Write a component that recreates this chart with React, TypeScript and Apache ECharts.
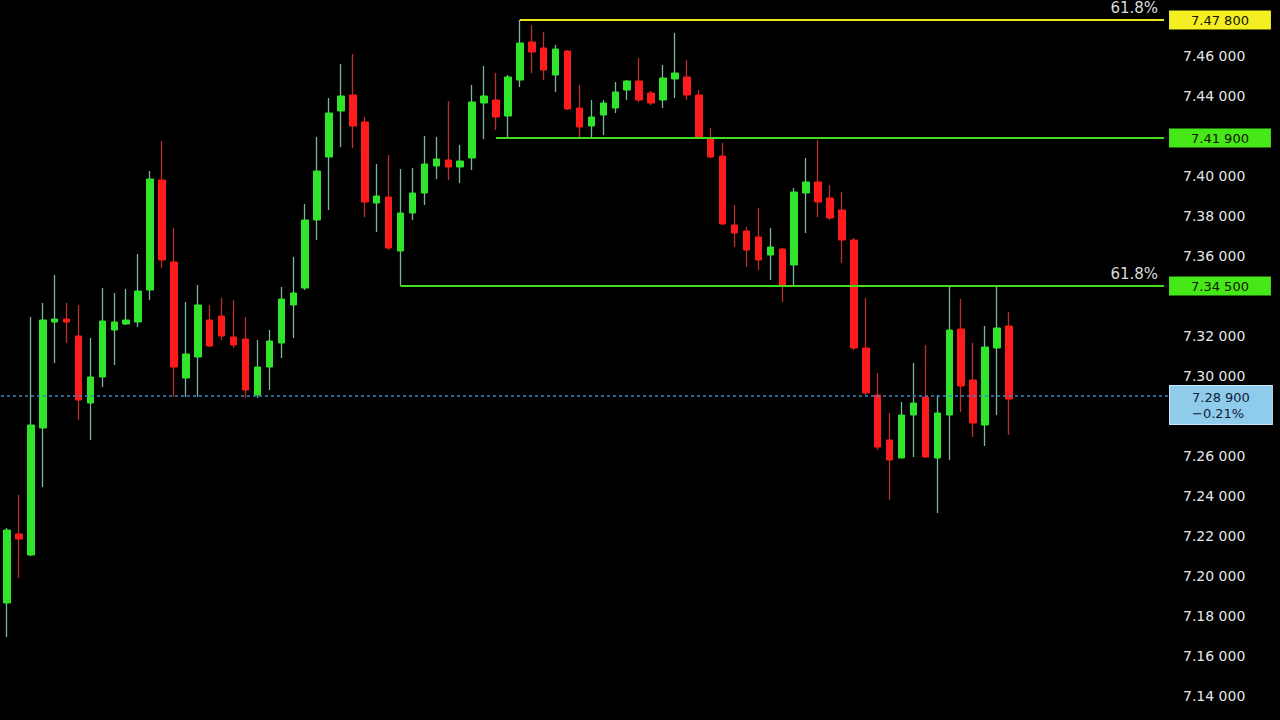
import React, { useEffect, useRef } from "react";
import * as echarts from "echarts";

// ---- data ----
const categories: string[] = Array.from({ length: 98 }, (_, i) => String(i + 1));

const opens = [
  7.1865, 7.221, 7.2105, 7.274, 7.327, 7.3285, 7.32, 7.2865, 7.2995, 7.323,
  7.326, 7.327, 7.343, 7.398, 7.357, 7.299, 7.3095, 7.328, 7.33, 7.3195,
  7.3185, 7.2905, 7.3045, 7.3165, 7.3355, 7.344, 7.378, 7.4095, 7.4325, 7.4405,
  7.427, 7.3865, 7.3895, 7.3625, 7.3815, 7.3915, 7.405, 7.408, 7.4045, 7.409,
  7.4365, 7.438, 7.43, 7.448, 7.467, 7.464, 7.4505, 7.4625, 7.434, 7.425,
  7.4305, 7.434, 7.443, 7.4475, 7.4415, 7.438, 7.4485, 7.4495, 7.4405, 7.4185,
  7.41, 7.3755, 7.3725, 7.3695, 7.3605, 7.3635, 7.3555, 7.3915, 7.397, 7.389,
  7.383, 7.368, 7.314, 7.2905, 7.268, 7.259, 7.2805, 7.2895, 7.259, 7.2805,
  7.3235, 7.298, 7.2755, 7.314, 7.325,
];
const closes = [
  7.223, 7.2185, 7.2755, 7.328, 7.3285, 7.327, 7.288, 7.2995, 7.3275, 7.327,
  7.328, 7.3425, 7.3985, 7.358, 7.3045, 7.311, 7.3355, 7.315, 7.32, 7.3155,
  7.293, 7.3045, 7.3175, 7.3385, 7.3415, 7.378, 7.4025, 7.4315, 7.44, 7.425,
  7.387, 7.39, 7.364, 7.3815, 7.3915, 7.406, 7.4085, 7.4045, 7.4075, 7.437,
  7.44, 7.4295, 7.4495, 7.4665, 7.462, 7.453, 7.4635, 7.4335, 7.4245, 7.4295,
  7.4365, 7.442, 7.4475, 7.438, 7.4365, 7.449, 7.4515, 7.4405, 7.4195, 7.4095,
  7.376, 7.3715, 7.363, 7.358, 7.3645, 7.3455, 7.392, 7.397, 7.387, 7.379,
  7.368, 7.314, 7.2915, 7.2645, 7.258, 7.2805, 7.2865, 7.2595, 7.2815, 7.323,
  7.295, 7.2765, 7.3145, 7.324, 7.2885,
];
const lows = [
  7.1695, 7.199, 7.21, 7.2445, 7.3065, 7.3165, 7.278, 7.268, 7.2945, 7.3055,
  7.3255, 7.3245, 7.338, 7.354, 7.2895, 7.2895, 7.2895, 7.3145, 7.318, 7.314,
  7.289, 7.289, 7.293, 7.309, 7.319, 7.343, 7.368, 7.383, 7.4145, 7.414,
  7.3795, 7.372, 7.363, 7.345, 7.378, 7.3855, 7.3985, 7.398, 7.3965, 7.403,
  7.4185, 7.423, 7.419, 7.4445, 7.4515, 7.448, 7.442, 7.433, 7.4195, 7.4195,
  7.4205, 7.4315, 7.438, 7.437, 7.4355, 7.434, 7.439, 7.438, 7.419, 7.409,
  7.3755, 7.3645, 7.3545, 7.353, 7.348, 7.337, 7.3455, 7.3715, 7.3795, 7.378,
  7.3565, 7.313, 7.2905, 7.263, 7.238, 7.259, 7.2595, 7.259, 7.2315, 7.258,
  7.282, 7.2695, 7.265, 7.2805, 7.2705,
];
const highs = [
  7.224, 7.2405, 7.3295, 7.3365, 7.3505, 7.3365, 7.3355, 7.319, 7.344, 7.3415,
  7.3435, 7.361, 7.4025, 7.4175, 7.374, 7.337, 7.3455, 7.3355, 7.339, 7.338,
  7.3295, 7.318, 7.323, 7.3445, 7.3595, 7.386, 7.4195, 7.439, 7.456, 7.461,
  7.4295, 7.406, 7.4105, 7.4035, 7.404, 7.42, 7.4195, 7.4375, 7.4155, 7.4455,
  7.455, 7.4515, 7.4505, 7.478, 7.4755, 7.472, 7.4655, 7.463, 7.4455, 7.438,
  7.438, 7.447, 7.448, 7.459, 7.4425, 7.4555, 7.4715, 7.458, 7.443, 7.424,
  7.4165, 7.3855, 7.3745, 7.384, 7.374, 7.364, 7.394, 7.409, 7.418, 7.3955,
  7.392, 7.369, 7.339, 7.3015, 7.2815, 7.287, 7.3065, 7.3155, 7.2905, 7.3445,
  7.3385, 7.3165, 7.325, 7.3445, 7.332,
];

// horizontal levels: price, start bar index, fib text (empty if none)
const levelPrices = [7.478, 7.419, 7.345];
const levelStartBars = [43, 41, 33];
const levelFibTexts = ["61.8%", "", "61.8%"];
const lastPrice = 7.289;
const lastChange = "\u22120.21%";

// y-axis ticks
const yMin = 7.14;
const yMax = 7.48;
const yStep = 0.02;

const fmtPrice = (v: number) => {
  const s = v.toFixed(5);
  return s.slice(0, 4) + " " + s.slice(4);
};

const levelColors = ["#ece71e", "#43dc1f", "#43dc1f"];
const levelBoxBg = ["#f3ef22", "#46e81a", "#46e81a"];

export default function App() {
  const ref = useRef<HTMLDivElement>(null);

  useEffect(() => {
    document.body.style.margin = "0";
    document.body.style.background = "#000";
    if (!ref.current) return;
    const chart = echarts.init(ref.current, undefined, { renderer: "svg" });

    const bodyData = opens.map((o, i) => [o, closes[i], Math.min(o, closes[i]), Math.max(o, closes[i])]);
    const wickData = opens.map((o, i) => [o, closes[i], lows[i], highs[i]]);
    const lastCat = categories[categories.length - 1];
    const coveredPrices = [...levelPrices, lastPrice];

    const markData: any[] = [];
    levelPrices.forEach((p, k) => {
      const start = categories[levelStartBars[k]];
      const ls = { color: levelColors[k], width: 2, type: "solid" };
      markData.push([
        {
          coord: [start, p],
          lineStyle: ls,
          label: {
            show: true,
            position: "end",
            distance: 5,
            formatter: fmtPrice(p),
            backgroundColor: levelBoxBg[k],
            color: "#141400",
            padding: [3, 22],
            fontSize: 13,
            fontFamily: "DejaVu Sans",
          },
        },
        { coord: [lastCat, p] },
      ]);
      if (levelFibTexts[k]) {
        markData.push([
          {
            coord: [start, p],
            lineStyle: ls,
            label: {
              show: true,
              position: "insideEndTop",
              distance: [6, 5],
              formatter: levelFibTexts[k],
              color: "#d9d9d9",
              fontSize: 15,
              fontFamily: "DejaVu Sans",
            },
          },
          { coord: [lastCat, p] },
        ]);
      }
    });
    markData.push({
      yAxis: lastPrice,
      lineStyle: { color: "#3f86c4", width: 1.5, type: [3, 3] },
      label: {
        show: true,
        position: "end",
        distance: 0,
        offset: [0, 9],
        formatter: fmtPrice(lastPrice) + "\n" + lastChange,
        backgroundColor: "#8fcbea",
        borderColor: "#c8e6f6",
        borderWidth: 1,
        color: "#102038",
        padding: [3, 22],
        lineHeight: 16,
        fontSize: 13,
        fontFamily: "DejaVu Sans",
      },
    });

    chart.setOption({
      animation: false,
      backgroundColor: "#000000",
      grid: { left: 1, right: 110, top: 16, bottom: 24 },
      xAxis: {
        type: "category",
        data: categories,
        boundaryGap: true,
        show: false,
      },
      yAxis: {
        type: "value",
        position: "right",
        min: yMin,
        max: yMax,
        interval: yStep,
        axisLine: { show: false },
        axisTick: { show: false },
        splitLine: { show: false },
        axisLabel: {
          color: "#e6e6e6",
          fontSize: 14,
          fontFamily: "DejaVu Sans",
          margin: 13,
          formatter: (v: number) =>
            coveredPrices.some((p) => Math.abs(p - v) < 0.0095) ? "" : fmtPrice(v),
        },
      },
      series: [
        {
          type: "candlestick",
          name: "wick",
          data: wickData,
          barWidth: 1,
          silent: true,
          z: 2,
          itemStyle: {
            color: "#7cb697",
            color0: "#b83028",
            borderColor: "#7cb697",
            borderColor0: "#b83028",
            borderWidth: 1.3,
          },
        },
        {
          type: "candlestick",
          name: "body",
          data: bodyData,
          barWidth: 7,
          silent: true,
          z: 3,
          itemStyle: {
            color: "#2fe42a",
            color0: "#ff1b1b",
            borderColor: "#2fe42a",
            borderColor0: "#ff1b1b",
            borderWidth: 1,
          },
          markLine: {
            silent: true,
            symbol: ["none", "none"],
            z: 5,
            data: markData,
          },
        },
      ],
    });

    return () => chart.dispose();
  }, []);

  return (
    <div
      ref={ref}
      style={{ position: "fixed", left: 0, top: 0, width: 1280, height: 720, background: "#000" }}
    />
  );
}
